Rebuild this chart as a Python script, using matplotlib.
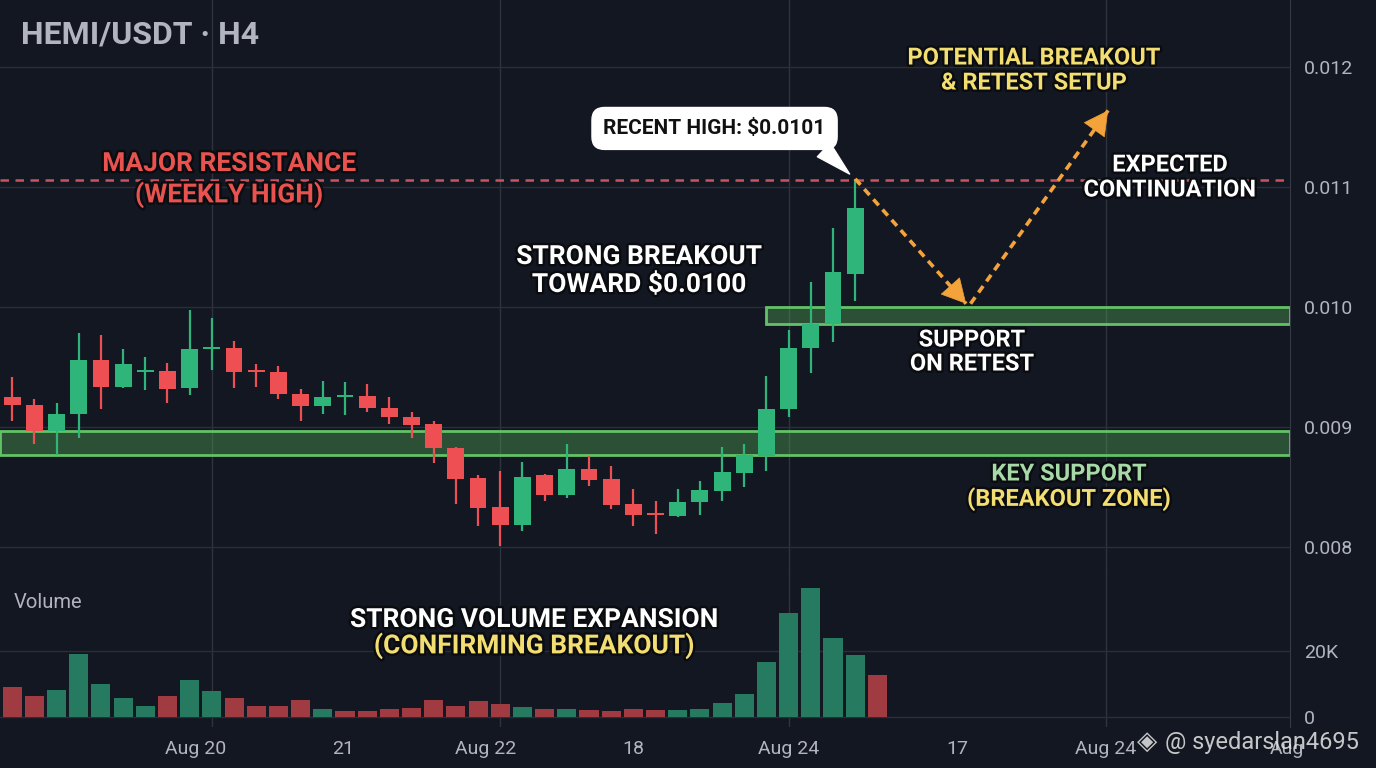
import numpy as np
import matplotlib
matplotlib.use("Agg")
import matplotlib.pyplot as plt
import matplotlib.patheffects as pe
from matplotlib.patches import Rectangle

plt.rcParams['font.family'] = ['Roboto', 'DejaVu Sans']

# HEMI/USDT H4 candles
opens = [0.00925, 0.00919, 0.00897, 0.00911, 0.00956, 0.00934, 0.00946, 0.00947, 0.00933, 0.00965,
         0.00966, 0.00947, 0.00946, 0.00928, 0.00918, 0.00925, 0.00926, 0.00916, 0.00909, 0.00903,
         0.00883, 0.00858, 0.00834, 0.00819, 0.00860, 0.00844, 0.00865, 0.00857, 0.00836, 0.00828,
         0.00826, 0.00838, 0.00847, 0.00862, 0.00876, 0.00915, 0.00966, 0.00986, 0.01028]
highs = [0.00942, 0.00924, 0.00920, 0.00979, 0.00977, 0.00965, 0.00959, 0.00954, 0.00998, 0.00991,
         0.00972, 0.00953, 0.00951, 0.00932, 0.00939, 0.00938, 0.00936, 0.00925, 0.00913, 0.00905,
         0.00884, 0.00860, 0.00864, 0.00871, 0.00861, 0.00886, 0.00876, 0.00868, 0.00849, 0.00839,
         0.00849, 0.00855, 0.00884, 0.00886, 0.00943, 0.00981, 0.01021, 0.01066, 0.01107]
lows = [0.00905, 0.00886, 0.00877, 0.00891, 0.00915, 0.00933, 0.00931, 0.00920, 0.00927, 0.00948,
        0.00933, 0.00934, 0.00924, 0.00905, 0.00911, 0.00910, 0.00913, 0.00903, 0.00891, 0.00870,
        0.00836, 0.00818, 0.00801, 0.00814, 0.00839, 0.00841, 0.00851, 0.00832, 0.00818, 0.00811,
        0.00825, 0.00827, 0.00839, 0.00850, 0.00864, 0.00909, 0.00945, 0.00971, 0.01005]
closes = [0.00919, 0.00897, 0.00911, 0.00956, 0.00934, 0.00953, 0.00947, 0.00932, 0.00965, 0.00966,
          0.00946, 0.00946, 0.00928, 0.00918, 0.00925, 0.00926, 0.00916, 0.00909, 0.00902, 0.00883,
          0.00857, 0.00833, 0.00819, 0.00859, 0.00844, 0.00865, 0.00856, 0.00835, 0.00827, 0.00827,
          0.00838, 0.00848, 0.00863, 0.00877, 0.00915, 0.00966, 0.00986, 0.01029, 0.01083]

# volume in thousands, one bar more than candles
volume = [9.2, 6.3, 8.1, 19.1, 9.9, 5.8, 3.2, 6.3, 11.2, 7.8,
          5.8, 3.2, 3.2, 5.0, 2.3, 1.8, 1.8, 2.3, 2.8, 5.0,
          3.3, 4.7, 3.8, 3.0, 2.4, 2.4, 2.1, 1.8, 2.4, 2.1,
          2.1, 2.4, 4.3, 7.0, 16.8, 31.7, 39.3, 24.2, 19.0, 12.8]
vol_up = [0, 0, 1, 1, 1, 1, 1, 0, 1, 1,
          0, 0, 0, 0, 1, 0, 0, 0, 0, 0,
          0, 0, 0, 1, 0, 1, 0, 0, 0, 0,
          1, 1, 1, 1, 1, 1, 1, 1, 1, 0]

# levels
resistance = 0.01106
key_support = (0.00877, 0.00897)
retest_zone = (0.00986, 0.01000)
retest_from = 34

# projected move: last high -> retest -> continuation
path_idx = [38, 43.0, 49.4]
path_price = [0.01107, 0.01003, 0.01164]

price_ticks = [0.008, 0.009, 0.010, 0.011, 0.012]
price_labels = ['0.008', '0.009', '0.010', '0.011', '0.012']
x_ticks = [8.25, 14.9, 21.35, 28.0, 35.0, 42.6, 49.3, 57.45]
x_labels = ['Aug 20', '21', 'Aug 22', '18', 'Aug 24', '17', 'Aug 24', 'Aug']
x_grid = [9.0, 22.0, 35.0, 49.3]

BG = '#131722'
GRID = '#2a2e39'
AXTXT = '#b2b5be'
GREEN = '#2fb47a'
RED = '#ee4f52'
VGREEN = '#267a60'
VRED = '#a03b42'
ORANGE = '#f3a33a'
YELLOW = '#f3de72'
W, H = 1376, 768

fig = plt.figure(figsize=(W / 100, H / 100), dpi=100, facecolor=BG)
ax = fig.add_axes([0, 1 - 575 / H, 1290 / W, 575 / H], facecolor=BG)
axv = fig.add_axes([0, 1 - 727 / H, 1290 / W, 152 / H], facecolor=BG, sharex=ax)

o, h, l, c = map(np.array, (opens, highs, lows, closes))
idx = np.arange(len(o))
col = np.where(c >= o, GREEN, RED)

ax.vlines(idx, l, h, colors=col, lw=1.6, zorder=4)
ax.bar(idx, np.maximum(np.abs(c - o), 0.000018), bottom=np.minimum(o, c),
       width=0.76, color=col, zorder=5)

ax.set_xlim(-0.55, 57.6)
ax.set_ylim(0.00777, 0.01256)

# support zones
zone_fc = (0.30, 0.63, 0.32, 0.42)
zone_ec = '#63c267'
ax.axhspan(key_support[0], key_support[1], fc=zone_fc, ec=zone_ec, lw=2, zorder=2)
x1 = ax.get_xlim()[1]
ax.add_patch(Rectangle((retest_from, retest_zone[0]), x1 - retest_from,
                       retest_zone[1] - retest_zone[0], fc=zone_fc, ec=zone_ec, lw=2, zorder=2))

ax.axhline(resistance, color='#c9545e', lw=1.8, ls=(0, (3.4, 2.6)), zorder=3)

# projected path: dashed shaft plus a solid head
for a, b in [(0, 1), (1, 2)]:
    x0 = path_idx[a] + (0.2 if a == 1 else 0)
    y0 = path_price[a]
    xe, ye = path_idx[b], path_price[b]
    ax.plot([x0, xe], [y0, ye], color=ORANGE, lw=2.6, ls=(0, (2.2, 1.6)),
            solid_capstyle='butt', zorder=6)
    ax.annotate('', xy=(xe, ye), xytext=(x0 + 0.9 * (xe - x0), y0 + 0.9 * (ye - y0)),
                arrowprops=dict(arrowstyle='-|>,head_length=0.75,head_width=0.4',
                                color=ORANGE, lw=0.5, shrinkA=0, shrinkB=0,
                                mutation_scale=22), zorder=7)

# callout bubble
ax.annotate('RECENT HIGH: $0.0101', xy=(path_idx[0] - 0.25, h[-1] + 0.00004),
            xytext=(31.66, 0.01149), ha='center', va='center', fontsize=15, weight='bold',
            color='#111111', zorder=8,
            bbox=dict(boxstyle='round,pad=0.55,rounding_size=0.6', fc='white', ec='white'),
            arrowprops=dict(arrowstyle='wedge,tail_width=0.9,shrink_factor=0.5', fc='white',
                            ec='white', relpos=(0.92, 0.15), shrinkA=0, shrinkB=0))

# volume
axv.bar(np.arange(len(volume)), volume, width=0.86,
        color=[VGREEN if u else VRED for u in vol_up], zorder=3)
axv.set_ylim(-3.15, 43.4)

for a_ in (ax, axv):
    for g in x_grid:
        a_.axvline(g, color='#2f333e', lw=1, zorder=1)
    a_.grid(axis='y', color=GRID, lw=1, zorder=1)
    a_.yaxis.tick_right()
    a_.tick_params(axis='y', length=0, pad=10, labelsize=14, labelcolor=AXTXT)
    for s in ('top', 'left', 'bottom'):
        a_.spines[s].set_visible(False)
    a_.spines['right'].set_color('#363a45')

ax.spines['bottom'].set_visible(True)
ax.spines['bottom'].set_color(GRID)
ax.set_yticks(price_ticks, price_labels)
ax.tick_params(axis='x', bottom=False, labelbottom=False)
axv.set_yticks([0, 20], ['0', '20K'])
axv.set_xticks(x_ticks, x_labels)
axv.tick_params(axis='x', length=0, pad=9, labelsize=14, labelcolor=AXTXT)
axv.set_xlim(-0.55, 57.6)

# texts
stroke = [pe.withStroke(linewidth=3.5, foreground='#0a0c10')]


def label(x, y, s, color, size=18):
    fig.text(x / W, 1 - y / H, s, color=color, fontsize=size, weight='bold',
             ha='center', va='center', path_effects=stroke, zorder=10)


fig.text(21 / W, 1 - 35 / H, 'HEMI/USDT · H4', color=AXTXT, fontsize=23, weight='bold',
         ha='left', va='center')
fig.text(14 / W, 1 - 603 / H, 'Volume', color=AXTXT, fontsize=14.5, ha='left', va='center')

label(229, 164, 'MAJOR RESISTANCE', '#e8524f', 19)
label(229, 195, '(WEEKLY HIGH)', '#e8524f', 19)
label(639, 257, 'STRONG BREAKOUT', 'white', 19)
label(639, 285, 'TOWARD $0.0100', 'white', 19)
label(1034, 58, 'POTENTIAL BREAKOUT', YELLOW, 17)
label(1034, 83, '& RETEST SETUP', YELLOW, 17)
label(1170, 165, 'EXPECTED', 'white', 17)
label(1170, 190, 'CONTINUATION', 'white', 17)
label(972, 340, 'SUPPORT', 'white', 17)
label(972, 364, 'ON RETEST', 'white', 17)
label(1069, 474, 'KEY SUPPORT', '#a6d8a8', 17)
label(1069, 499, '(BREAKOUT ZONE)', YELLOW, 17)
label(534, 620, 'STRONG VOLUME EXPANSION', 'white', 19)
label(534, 646, '(CONFIRMING BREAKOUT)', YELLOW, 19)

# watermark
fig.text(1147 / W, 1 - 742 / H, '◈', family='DejaVu Sans', fontsize=19, color='#e6e6e6',
         alpha=0.85, ha='center', va='center', zorder=11)
fig.text(1165 / W, 1 - 742 / H, '@ syedarslan4695', fontsize=17, color='#e6e6e6',
         alpha=0.85, ha='left', va='center', zorder=11)

fig.savefig('out.png', dpi=100, facecolor=BG)
